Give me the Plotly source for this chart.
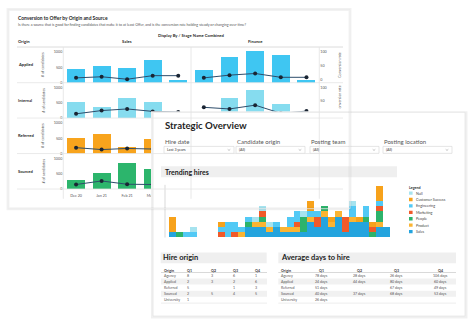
import plotly.graph_objects as go

W, H = 474, 327
FONT = "Lato"


def fx(p):
    return p / W


def fy(p):
    return 1 - p / H


# ---------------- data: card 1 (Conversion to Offer) ----------------
months = ["Dec 20", "Jan 21", "Feb 21", "Mar 21", "Apr 21"]
origins = ["Applied", "Internal", "Referred", "Sourced"]
teams = ["Sales", "Finance"]

applied_sales = [460, 550, 470, 740, 85]
internal_sales = [515, 355, 645, 515, 150]
referred_sales = [505, 635, 205, 475, 300]
sourced_sales = [290, 515, 840, 645, 600]

applied_finance = [405, 840, 1020, 910, 85]
internal_finance = [120, 645, 915, 475, 100]
referred_finance = [250, 400, 350, 300, 150]
sourced_finance = [300, 450, 600, 500, 200]

applied_sales_rate = [5, 9, 0, 13, 13]
internal_sales_rate = [3, 15, 21, 12, 10]
referred_sales_rate = [9, 2, 6, 4, 5]
sourced_sales_rate = [4, 17, 5, 4, 6]

applied_finance_rate = [5, 15, 21, 7, 7]
internal_finance_rate = [27, 21, 35, 5, 13]
referred_finance_rate = [10, 8, 12, 9, 10]
sourced_finance_rate = [6, 9, 11, 8, 7]

cand_ticks = [0, 500, 1000]
rate_ticks = [0, 50, 100]

# ---------------- data: card 2 (Strategic Overview) ----------------
filter_labels = ["Hire date", "Candidate origin", "Posting team", "Posting location"]
filter_values = ["Last 3 years", "(All)", "(All)", "(All)"]

periods = list(range(1, 33))
hires_sales = [1, 0, 0, 0, 0, 0, 0, 0, 0, 0, 0, 2, 2, 2, 1, 2, 1, 1, 1, 1, 3, 2, 4, 2, 4, 1, 3, 3, 3, 0, 2, 2]
hires_product = [0, 0, 0, 0, 0, 0, 0, 0, 0, 0, 1, 0, 1, 1, 1, 0, 1, 1, 1, 0, 1, 0, 1, 1, 1, 0, 1, 0, 0, 0, 1, 0]
hires_people = [0, 1, 0, 0, 0, 0, 0, 0, 0, 0, 0, 1, 0, 1, 0, 0, 0, 0, 0, 3, 0, 0, 1, 0, 0, 0, 0, 0, 1, 1, 2, 0]
hires_marketing = [0, 0, 0, 0, 0, 0, 0, 1, 0, 1, 0, 0, 0, 1, 0, 0, 0, 0, 1, 0, 0, 2, 0, 0, 0, 3, 0, 0, 0, 1, 1, 0]
hires_engineering = [0, 0, 1, 1, 0, 0, 0, 1, 3, 2, 1, 1, 0, 0, 0, 1, 0, 2, 2, 0, 1, 1, 0, 0, 0, 0, 2, 0, 2, 0, 1, 0]
hires_customer_success = [3, 0, 0, 0, 0, 0, 0, 1, 0, 0, 0, 0, 0, 0, 0, 0, 0, 0, 0, 0, 2, 0, 0, 1, 0, 0, 0, 1, 0, 1, 3, 0]
hires_null = [0, 0, 0, 1, 0, 0, 0, 0, 0, 0, 0, 0, 1, 1, 1, 0, 0, 0, 0, 1, 0, 0, 0, 0, 0, 0, 1, 0, 0, 0, 0, 0]

legend_names = ["Null", "Customer Success", "Engineering", "Marketing", "People", "Product", "Sales"]

table_rows = ["Agency", "Applied", "Referred", "Sourced", "University"]
quarters = ["Q1", "Q2", "Q3", "Q4"]
hire_q1 = ["8", "2", "5", "2", "1"]
hire_q2 = ["3", "3", "", "5", ""]
hire_q3 = ["6", "2", "1", "4", ""]
hire_q4 = ["1", "6", "3", "5", ""]
days_q1 = ["78 days", "24 days", "51 days", "40 days", "26 days"]
days_q2 = ["28 days", "44 days", "", "37 days", ""]
days_q3 = ["26 days", "80 days", "67 days", "68 days", ""]
days_q4 = ["106 days", "60 days", "49 days", "53 days", ""]

# ---------------- styles ----------------
origin_colors = ["#3fc6f2", "#86dcef", "#f8a41d", "#2cb56c"]
hire_colors = {
    "Null": "#a6e3ef", "Customer Success": "#f7a21b", "Engineering": "#52c9f5",
    "Marketing": "#f15a29", "People": "#2db36b", "Product": "#fbb432", "Sales": "#24a4de",
}

cand_by = {
    ("Applied", "Sales"): applied_sales, ("Internal", "Sales"): internal_sales,
    ("Referred", "Sales"): referred_sales, ("Sourced", "Sales"): sourced_sales,
    ("Applied", "Finance"): applied_finance, ("Internal", "Finance"): internal_finance,
    ("Referred", "Finance"): referred_finance, ("Sourced", "Finance"): sourced_finance,
}
rate_by = {
    ("Applied", "Sales"): applied_sales_rate, ("Internal", "Sales"): internal_sales_rate,
    ("Referred", "Sales"): referred_sales_rate, ("Sourced", "Sales"): sourced_sales_rate,
    ("Applied", "Finance"): applied_finance_rate, ("Internal", "Finance"): internal_finance_rate,
    ("Referred", "Finance"): referred_finance_rate, ("Sourced", "Finance"): sourced_finance_rate,
}

PANEL_X = [(63.3, 191.0), (191.0, 319.3)]
ROW_EDGES = [47.3, 83.2, 118.8, 154.5, 190.2]

fig = go.Figure()
layout = dict(
    width=W, height=H, margin=dict(l=0, r=0, t=0, b=0),
    paper_bgcolor="#ffffff", plot_bgcolor="white",
    showlegend=False, barmode="stack", hovermode=False,
)

tickfont = dict(family=FONT, size=3.7, color="#555")


def aid(letter, n):
    return letter if n == 1 else f"{letter}{n}"


def akey(letter, n):
    return f"{letter}axis" if n == 1 else f"{letter}axis{n}"


for r, origin in enumerate(origins):
    for p, team in enumerate(teams):
        k = r * 2 + p
        xn, yn, y2n = k + 1, 2 * k + 1, 2 * k + 2
        xid, yid, y2id = aid("x", xn), aid("y", yn), aid("y", y2n)
        fig.add_trace(go.Bar(
            x=months, y=cand_by[(origin, team)], xaxis=xid, yaxis=yid,
            marker=dict(color=origin_colors[r], line=dict(width=0)), width=0.7,
        ))
        fig.add_trace(go.Scatter(
            x=months, y=rate_by[(origin, team)], xaxis=xid, yaxis=y2id,
            mode="lines+markers", line=dict(color="#2e4d6b", width=1),
            marker=dict(color="#1a2533", size=4),
        ))
        x0, x1 = PANEL_X[p]
        layout[akey("x", xn)] = dict(
            domain=[fx(x0), fx(x1)], anchor=yid, type="category", range=[-0.5, 4.5],
            showgrid=False, zeroline=False, showline=False,
            showticklabels=(r == 3), tickfont=tickfont,
            ticks="outside", ticklen=3, tickcolor="rgba(0,0,0,0)",
        )
        layout[akey("y", yn)] = dict(
            domain=[fy(ROW_EDGES[r + 1]), fy(ROW_EDGES[r])], anchor=xid,
            range=[0, 1160], tickvals=cand_ticks, showticklabels=(p == 0),
            tickfont=tickfont, showgrid=False, zeroline=False, showline=False,
        )
        layout[akey("y", y2n)] = dict(
            overlaying=yid, anchor=xid, side="right", range=[-12.7, 118],
            tickvals=rate_ticks, ticksuffix="%", showticklabels=(p == 1),
            tickfont=tickfont, showgrid=False, zeroline=False, showline=False,
        )

# ---------------- card 2 cover subplot (pixel coordinates) ----------------
COVER_X = (151, 474)
COVER_Y = (112, 327)
fig.add_trace(go.Scatter(x=[], y=[], xaxis="x9", yaxis="y17"))
layout["xaxis9"] = dict(domain=[fx(COVER_X[0]), 1], anchor="y17", range=[COVER_X[0], COVER_X[1]], visible=False)
layout["yaxis17"] = dict(domain=[0, fy(COVER_Y[0])], anchor="x9", range=[COVER_Y[1], COVER_Y[0]], visible=False)

# trending hires (overlay axes on the cover subplot)
COL_W, COL0 = 6.9, 172.8
UNIT, BASE = 5.2, 238.7
stack_order = [
    ("Sales", hires_sales), ("Product", hires_product), ("People", hires_people),
    ("Marketing", hires_marketing), ("Engineering", hires_engineering),
    ("Customer Success", hires_customer_success), ("Null", hires_null),
]
for name, vals in stack_order:
    fig.add_trace(go.Bar(
        x=periods, y=vals, name=name, xaxis="x10", yaxis="y18", width=1.0,
        marker=dict(color=hire_colors[name], line=dict(width=0)),
    ))
layout["xaxis10"] = dict(
    overlaying="x9", anchor="y18", visible=False,
    range=[1 + (COVER_X[0] - COL0) / COL_W, 1 + (COVER_X[1] - COL0) / COL_W],
)
layout["yaxis18"] = dict(
    overlaying="y17", anchor="x10", visible=False,
    range=[(BASE - COVER_Y[1]) / UNIT, (BASE - COVER_Y[0]) / UNIT],
)

# ---------------- shapes ----------------
shapes = []


def pline(x0, y0, x1, y1, color, w=0.8):
    shapes.append(dict(type="line", xref="paper", yref="paper", x0=fx(x0), y0=fy(y0),
                       x1=fx(x1), y1=fy(y1), line=dict(color=color, width=w)))


def crect(x0, y0, x1, y1, fill=None, line=None, lw=0.0, shape_type="rect"):
    shapes.append(dict(type=shape_type, xref="x9", yref="y17", layer="below",
                       x0=x0, y0=y0, x1=x1, y1=y1,
                       fillcolor=fill if fill else "rgba(0,0,0,0)",
                       line=dict(color=line if line else "rgba(0,0,0,0)", width=lw)))


# card 1 frame & shadow
shapes.append(dict(type="rect", xref="paper", yref="paper", x0=fx(8), x1=fx(350),
                   y0=fy(210), y1=fy(9.5), line=dict(color="rgba(0,0,0,0.05)", width=3)))
shapes.append(dict(type="rect", xref="paper", yref="paper", x0=fx(8), x1=fx(350),
                   y0=fy(210), y1=fy(9.5), line=dict(color="#ececec", width=0.8)))
pline(17, 47.3, 343, 47.3, "#d3d3d3")
for yy in ROW_EDGES[1:]:
    pline(17, yy, 343, yy, "#e4e4e4")
for xx in (63.3, 191.0, 319.3):
    pline(xx, 47.3, xx, 200, "#e2e2e2")

# card 2 frame & shadow
crect(152, 112, 466, 319, line="rgba(0,0,0,0.06)", lw=3)
crect(153, 113, 465, 318, fill="white", line="#e4e4e4", lw=0.8)

# filter dropdowns
DD_X = [(164, 234), (236, 305), (310, 379), (383, 452)]
for (a, b) in DD_X:
    crect(a, 147.3, b, 154.3, fill="white", line="#d4d4d4", lw=0.6)
    cx, cy = b - 5, 150.8
    shapes.append(dict(type="path", xref="x9", yref="y17", layer="below",
                       path=f"M {cx-1.3},{cy-0.6} L {cx},{cy+0.6} L {cx+1.3},{cy-0.6}",
                       line=dict(color="#9a9a9a", width=0.6)))

# section header bands
crect(161, 167.3, 397, 178.3, fill="#efefef")
crect(160.7, 254, 266.7, 265, fill="#efefef")
crect(278.3, 254, 456, 265, fill="#efefef")

# hires axis line
shapes.append(dict(type="line", xref="x9", yref="y17", layer="below", x0=165, x1=165,
                   y0=186, y1=239, line=dict(color="#cfcfcf", width=0.8)))

# tables: header rule, zebra rows, bottom rule
ROW_Y0, ROW_DY = 277.2, 6.1
for (a, b) in [(161, 267), (278.3, 456)]:
    shapes.append(dict(type="line", xref="x9", yref="y17", layer="below", x0=a, x1=b,
                       y0=274.2, y1=274.2, line=dict(color="#bdbdbd", width=0.6)))
    for i in (1, 3):
        cy = ROW_Y0 + i * ROW_DY
        crect(a, cy - ROW_DY / 2, b, cy + ROW_DY / 2, fill="#f1f1f1")
    shapes.append(dict(type="line", xref="x9", yref="y17", layer="below", x0=a, x1=b,
                       y0=305, y1=305, line=dict(color="#e0e0e0", width=0.6)))

# legend swatches
LEG_Y0, LEG_DY = 194.3, 6.45
for i, name in enumerate(legend_names):
    cy = LEG_Y0 + i * LEG_DY
    crect(409, cy - 1.7, 412.6, cy + 1.7, fill=hire_colors[name])

layout["shapes"] = shapes

# ---------------- annotations ----------------
anns = []


def txt(s, x, y, size, color="#333", bold=False, xanchor="left", yanchor="middle", angle=0):
    anns.append(dict(
        text=f"<b>{s}</b>" if bold else s, x=fx(x), y=fy(y), xref="paper", yref="paper",
        showarrow=False, xanchor=xanchor, yanchor=yanchor, textangle=angle,
        font=dict(family=FONT, size=size, color=color), borderpad=0, borderwidth=0,
    ))


# card 1 text
txt("Conversion to Offer by Origin and Source", 18.3, 17.7, 4.9, "#1f1f1f", bold=True)
txt("Is there a source that is good for finding candidates that make it to at least Offer, "
    "and is the conversion rate holding steady or changing over time?", 18.3, 25, 3.6, "#555")
txt("Display By / Stage Name Combined", 191, 35.7, 4.2, "#2a2a2a", bold=True, xanchor="center")
txt("Origin", 18.3, 41.7, 4.2, "#2a2a2a", bold=True)
txt(teams[0], 127.2, 41.7, 4.2, "#2a2a2a", bold=True, xanchor="center")
txt(teams[1], 255.2, 41.7, 4.2, "#2a2a2a", bold=True, xanchor="center")
for r, origin in enumerate(origins):
    cy = (ROW_EDGES[r] + ROW_EDGES[r + 1]) / 2
    txt(origin, 18.3, cy, 4.1, "#2a2a2a", bold=True)
    txt("# of candidates", 43.3, cy, 3.7, "#555", xanchor="center", angle=-90)
txt("Conversion rate", 340, (ROW_EDGES[0] + ROW_EDGES[1]) / 2, 3.7, "#555", xanchor="center", angle=-90)
txt("onversion rate", 340, 86.6, 3.7, "#555", xanchor="center", yanchor="top", angle=-90)

# card 2 text
txt("Strategic Overview", 164.5, 126, 9.6, "#1f1f1f", bold=True)
for i, lab in enumerate(filter_labels):
    txt(lab, DD_X[i][0] + 1, 142.7, 6, "#555")
    txt(filter_values[i], DD_X[i][0] + 2.5, 150.8, 3.6, "#333")
txt("Trending hires", 164.5, 172.8, 7, "#222", bold=True)
txt("Legend", 408.5, 189, 3.6, "#333", bold=True)
for i, name in enumerate(legend_names):
    txt(name, 415.5, LEG_Y0 + i * LEG_DY, 3.7, "#444")

txt("Hire origin", 163, 259.5, 7.5, "#222", bold=True)
txt("Average days to hire", 281, 259.5, 7.5, "#222", bold=True)

HIRE_COLS = [187, 210.7, 233, 255]
DAYS_COLS = [321.7, 359.3, 396.7, 440]
hire_cols_data = [hire_q1, hire_q2, hire_q3, hire_q4]
days_cols_data = [days_q1, days_q2, days_q3, days_q4]
txt("Origin", 164, 271.7, 3.6, "#333", bold=True)
txt("Origin", 281, 271.7, 3.6, "#333", bold=True)
for j, q in enumerate(quarters):
    txt(q, HIRE_COLS[j], 271.7, 3.6, "#333", bold=True)
    txt(q, DAYS_COLS[j], 271.7, 3.6, "#333", bold=True, xanchor="center")
for i, rname in enumerate(table_rows):
    cy = ROW_Y0 + i * ROW_DY
    txt(rname, 164, cy, 3.6, "#555")
    txt(rname, 281, cy, 3.6, "#555")
    for j in range(4):
        if hire_cols_data[j][i]:
            txt(hire_cols_data[j][i], HIRE_COLS[j], cy, 3.6, "#555")
        if days_cols_data[j][i]:
            txt(days_cols_data[j][i], DAYS_COLS[j], cy, 3.6, "#555", xanchor="center")

layout["annotations"] = anns
fig.update_layout(**layout)
fig.write_html("out.html")
